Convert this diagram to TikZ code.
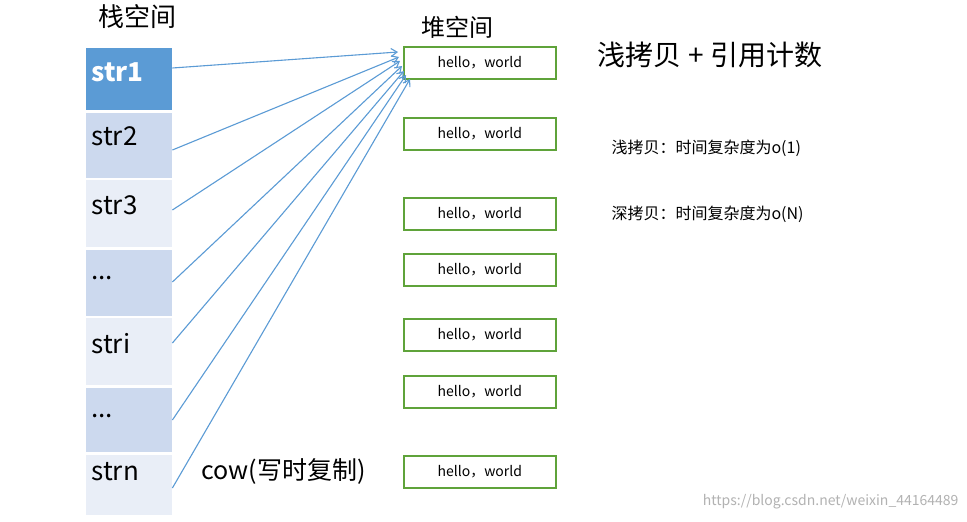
\documentclass[tikz,border=0pt]{standalone}
\usepackage{fontspec}
\setmainfont{Noto Sans CJK SC}
\usetikzlibrary{arrows.meta}
\definecolor{dk}{HTML}{5B9BD5}
\definecolor{lA}{HTML}{CCD9EE}
\definecolor{lB}{HTML}{E9EEF7}
\definecolor{gr}{HTML}{5FA33A}
\definecolor{ar}{HTML}{5B9BD5}
\tikzset{
 cell/.style={minimum width=86pt,inner sep=0pt,anchor=north west},
 lab/.style={anchor=west,font=\fontsize{26}{26}\selectfont},
 heap/.style={draw=gr,line width=1.6pt,minimum width=152pt,minimum height=32pt,anchor=north west,inner sep=0pt,font=\fontsize{14}{14}\selectfont},
 link/.style={draw=ar,line width=1.1pt,-{Straight Barb[length=6pt,width=8pt]}},
}
\begin{document}
\begin{tikzpicture}[x=1pt,y=-1pt]
\useasboundingbox[fill=white] (0,0) rectangle (967,522);
\node[cell,fill=dk,minimum height=62pt] (s1) at (86,48) {};
\node[cell,fill=lA,minimum height=65pt] (s2) at (86,113) {};
\node[cell,fill=lB,minimum height=67pt] (s3) at (86,180) {};
\node[cell,fill=lA,minimum height=66pt] (s4) at (86,250) {};
\node[cell,fill=lB,minimum height=67pt] (s5) at (86,318) {};
\node[cell,fill=lA,minimum height=64pt] (s6) at (86,388) {};
\node[cell,fill=lB,minimum height=60pt] (s7) at (86,455) {};
\node[lab,text=white,font=\fontsize{26}{26}\selectfont\bfseries] (l1) at (88,72) {str1};
\node[lab] (l2) at (88,136) {str2};
\node[lab] (l3) at (88,205) {str3};
\node[lab] (l4) at (88,278) {...};
\node[lab] (l5) at (88,344) {stri};
\node[lab] (l6) at (88,416) {...};
\node[lab] (l7) at (88,472) {strn};
\node[font=\fontsize{26}{26}\selectfont] (t1) at (137,17) {栈空间};
\node[font=\fontsize{24}{24}\selectfont] (t2) at (457,27) {堆空间};
\node[font=\fontsize{28}{28}\selectfont] (t3) at (710,55) {浅拷贝 + 引用计数};
\node[font=\fontsize{16}{16}\selectfont,anchor=west] (t4) at (608,148) {浅拷贝：时间复杂度为o(1)};
\node[font=\fontsize{16}{16}\selectfont,anchor=west] (t5) at (608,214) {深拷贝：时间复杂度为o(N)};
\node[font=\fontsize{25}{25}\selectfont,anchor=west] (t6) at (198,471) {cow(写时复制)};
\node[font=\fontsize{14}{14}\selectfont,text=gray!60,anchor=east] (wm) at (962,502) {https://blog.csdn.net/weixin\_44164489};
\node[heap] (h1) at (403,46) {hello，world};
\node[heap] (h2) at (403,117) {hello，world};
\node[heap] (h3) at (403,197) {hello，world};
\node[heap] (h4) at (403,253) {hello，world};
\node[heap] (h5) at (403,318) {hello，world};
\node[heap] (h6) at (403,375) {hello，world};
\node[heap] (h7) at (403,455) {hello，world};
\coordinate (e1) at (398,52);
\coordinate (e2) at (399,57);
\coordinate (e3) at (400,61);
\coordinate (e4) at (402,66);
\coordinate (e5) at (404,71);
\coordinate (e6) at (406,75);
\coordinate (e7) at (410,79);
\draw[link] ([yshift=-20pt]s1.north east) -- (e1);
\draw[link] ([yshift=-37pt]s2.north east) -- (e2);
\draw[link] ([yshift=-30pt]s3.north east) -- (e3);
\draw[link] ([yshift=-32pt]s4.north east) -- (e4);
\draw[link] ([yshift=-25pt]s5.north east) -- (e5);
\draw[link] ([yshift=-32pt]s6.north east) -- (e6);
\draw[link] ([yshift=-33pt]s7.north east) -- (e7);
\end{tikzpicture}
\end{document}
